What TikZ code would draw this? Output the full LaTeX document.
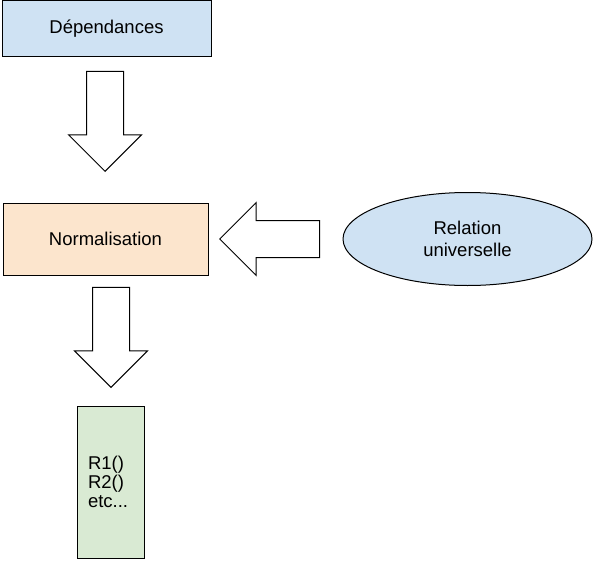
\documentclass[tikz,border=0pt]{standalone}
\usepackage{fontspec}
\setmainfont{Liberation Sans}
\usetikzlibrary{shapes.geometric, shapes.arrows}

\definecolor{depblue}{HTML}{CFE2F3}
\definecolor{normorange}{HTML}{FCE5CD}
\definecolor{relgreen}{HTML}{D9EAD3}

\begin{document}
\begin{tikzpicture}[x=1pt, y=-1pt,
    box/.style={draw, line width=1pt, inner sep=0pt, font=\fontsize{18.5}{19}\selectfont},
    bigarrow/.style={draw, fill=white, line width=1pt, single arrow, single arrow head extend=18pt,
        minimum height=100pt, inner sep=0pt, inner ysep=18pt}]
            \useasboundingbox (0,0) rectangle (596,564);

            \node[box, fill=depblue, minimum width=209pt, minimum height=56pt] (dep) at (106.5,29) {Dépendances};
            \node[box, fill=normorange, minimum width=205pt, minimum height=72pt] (norm) at (105.5,239) {Normalisation};
            \node[box, ellipse, fill=depblue, minimum width=249pt, minimum height=93pt, align=center,
                font=\fontsize{18.5}{21.5}\selectfont] (rel) at (467.5,239) {Relation\\universelle};
            \node[box, fill=relgreen, minimum width=67pt, minimum height=152pt, inner xsep=11pt,
                text width=45pt, align=left] (res) at (110.5,482) {R1()\\R2()\\etc...};

            % block arrows
            \node[bigarrow, rotate=-90, anchor=tip] (dep2norm) at (105,172) {};
            \node[bigarrow, rotate=180, anchor=tip] (rel2norm) at (219,239) {};
            \node[bigarrow, rotate=-90, anchor=tip] (norm2res) at (111,388) {};
        \end{tikzpicture}
\end{document}
